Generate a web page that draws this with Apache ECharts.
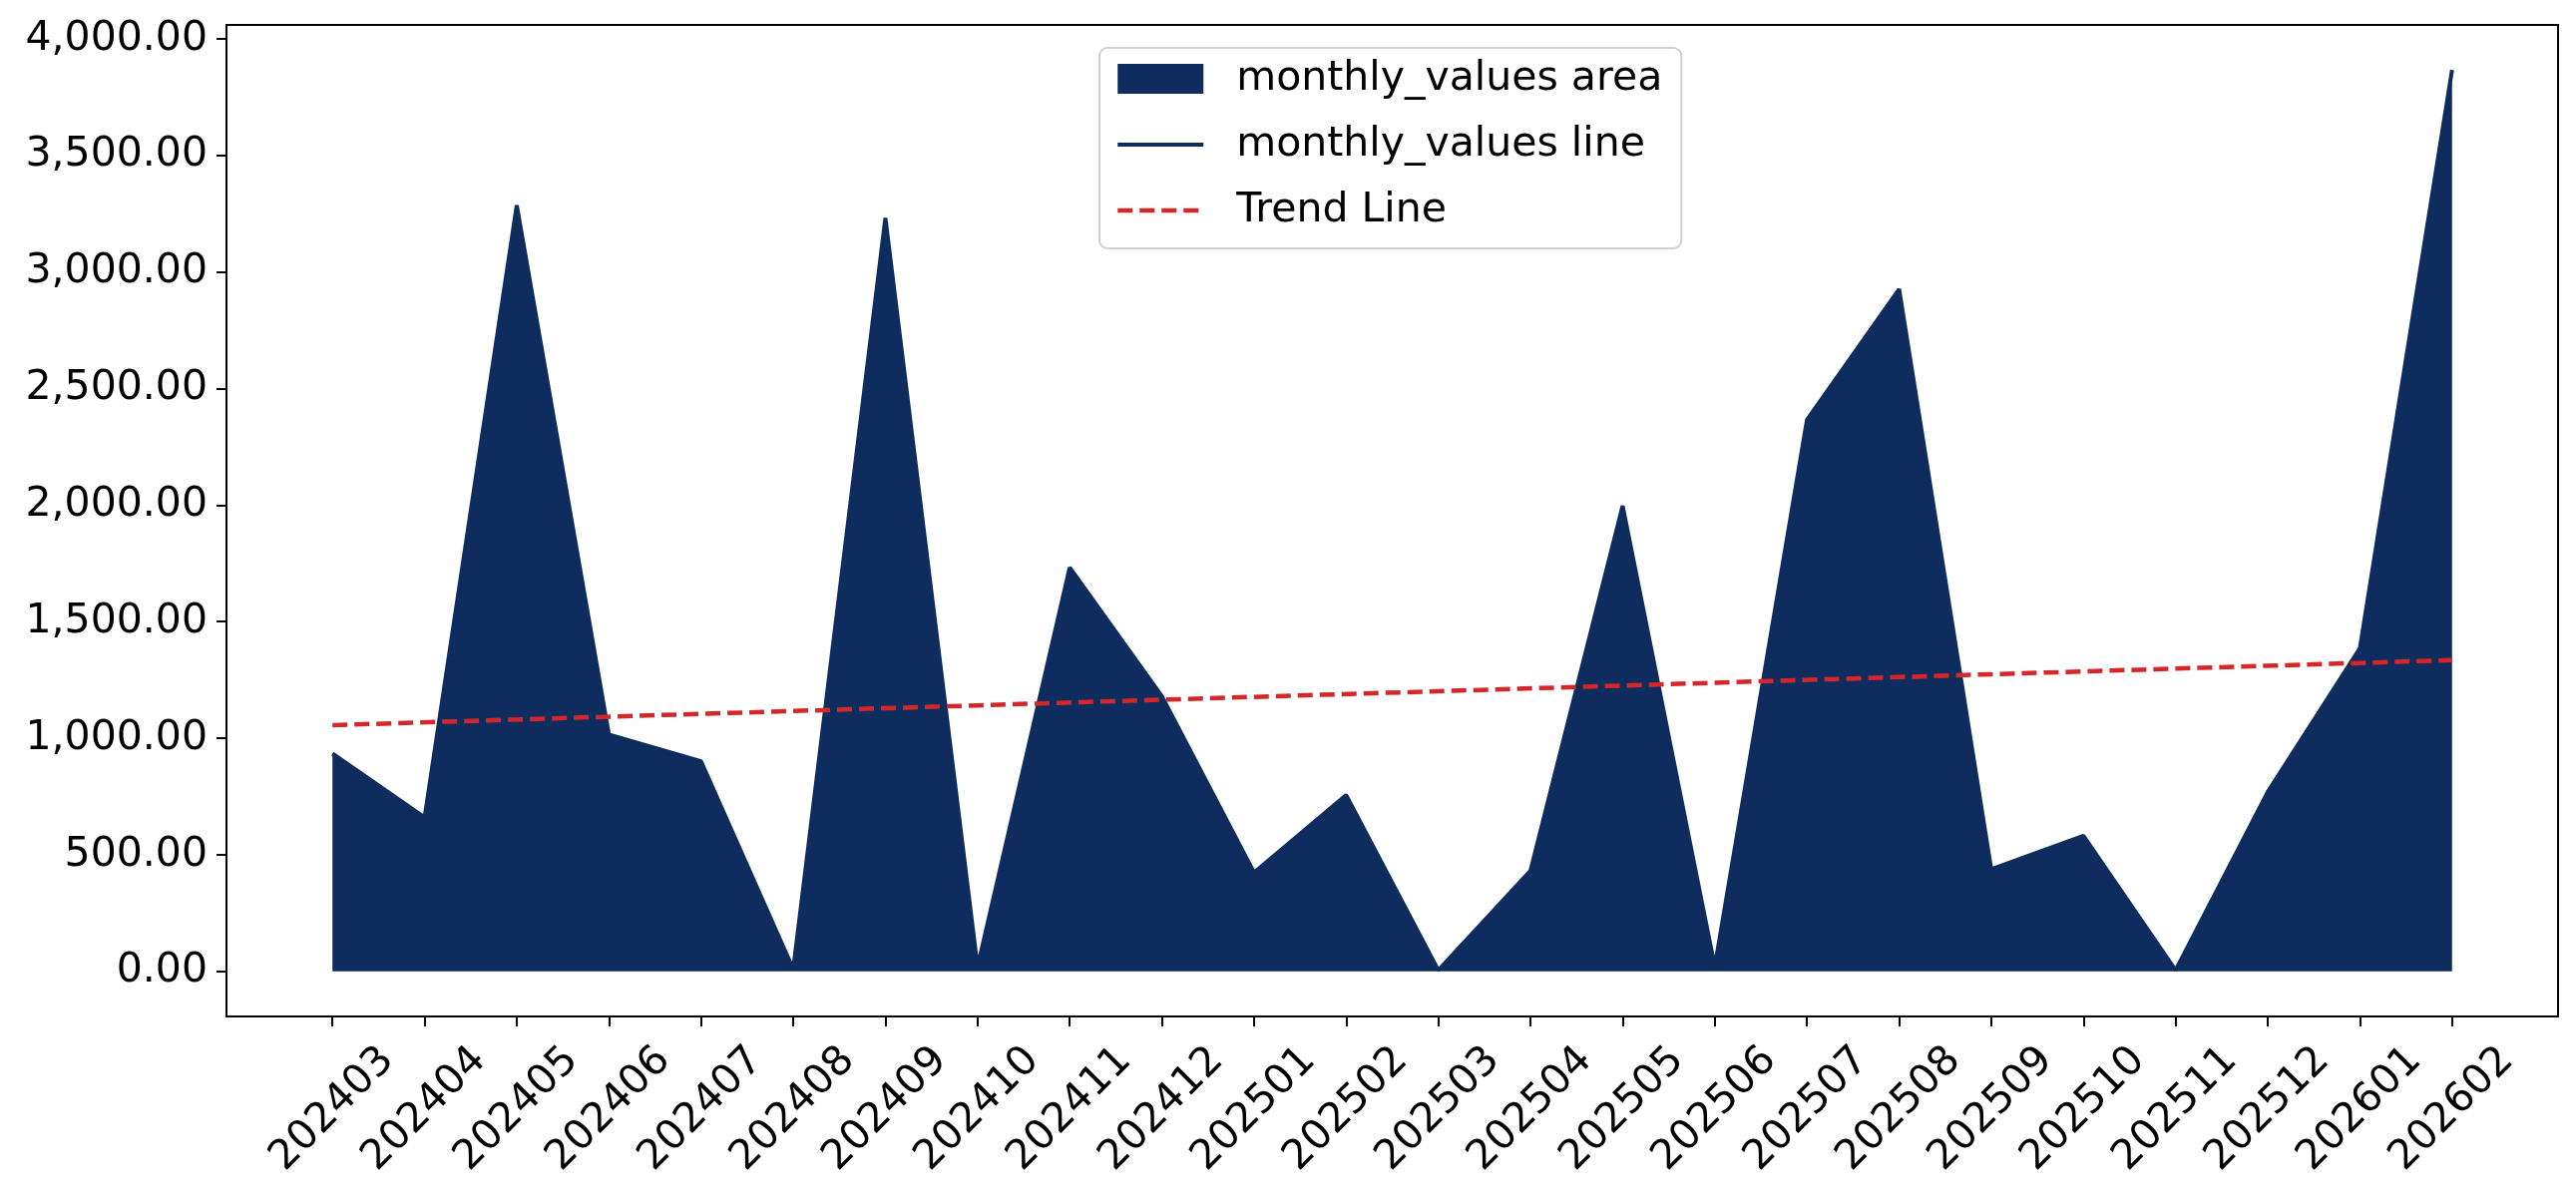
<!DOCTYPE html>
<html>
<head>
<meta charset="utf-8">
<script src="https://cdn.jsdelivr.net/npm/echarts@6/dist/echarts.min.js"></script>
<style>
  html, body { margin: 0; padding: 0; background: #fff; }
  #chart { width: 2582px; height: 1203px; }
</style>
</head>
<body>
<div id="chart"></div>
<script>
const categories = ['202403','202404','202405','202406','202407','202408','202409','202410','202411','202412',
  '202501','202502','202503','202504','202505','202506','202507','202508','202509','202510','202511','202512',
  '202601','202602'];
const monthlyValues = [934, 661, 3286, 1016, 901, 10, 3232, 20, 1732, 1180,
  424, 756, 5, 432, 1997, 20, 2365, 2926, 438, 582, 5, 770, 1386, 3866];
const trendStart = 1056;
const trendEnd = 1335;
const yTicks = [0, 500, 1000, 1500, 2000, 2500, 3000, 3500, 4000];

const NAVY = '#0e2d5e';
const RED = '#d62728';
const FONT = 'DejaVu Sans';

const xIdx = categories.map((c, i) => i);
const pts = monthlyValues.map((v, i) => [i, v]);
const trendPts = [[0, trendStart], [categories.length - 1, trendEnd]];
const maxV = Math.max(...monthlyValues);
const nX = categories.length - 1;

const chart = echarts.init(document.getElementById('chart'), null, { renderer: 'canvas' });
chart.setOption({
  animation: false,
  backgroundColor: '#fff',
  grid: {
    left: 227, right: 18, top: 25, bottom: 184,
    show: true, borderColor: '#000', borderWidth: 2, backgroundColor: 'transparent'
  },
  xAxis: {
    type: 'value',
    min: -0.05 * nX,
    max: nX * 1.05,
    splitLine: { show: false },
    axisLine: { show: true, onZero: false, lineStyle: { color: '#000', width: 2 } },
    axisTick: { show: true, customValues: xIdx, length: 10, lineStyle: { color: '#000', width: 2 } },
    axisLabel: {
      customValues: xIdx,
      formatter: v => categories[Math.round(v)],
      rotate: 45,
      align: 'center',
      verticalAlign: 'middle',
      margin: 93,
      color: '#000',
      fontFamily: FONT,
      fontSize: 41
    }
  },
  yAxis: {
    type: 'value',
    min: -0.05 * maxV,
    max: maxV * 1.05,
    splitLine: { show: false },
    axisLine: { show: true, onZero: false, lineStyle: { color: '#000', width: 2 } },
    axisTick: { show: true, customValues: yTicks, length: 10, lineStyle: { color: '#000', width: 2 } },
    axisLabel: {
      customValues: yTicks,
      formatter: v => v.toLocaleString('en-US', { minimumFractionDigits: 2, maximumFractionDigits: 2 }),
      margin: 19,
      color: '#000',
      fontFamily: FONT,
      fontSize: 41
    }
  },
  legend: {
    orient: 'vertical',
    left: 1102,
    top: 48,
    padding: [8, 19, 15, 16],
    itemGap: 20,
    itemWidth: 86,
    itemHeight: 30,
    backgroundColor: '#fff',
    borderColor: '#d0d0d0',
    borderWidth: 2,
    borderRadius: 8,
    textStyle: { fontFamily: FONT, fontSize: 41, color: '#000', lineHeight: 46, padding: [0, 0, 0, 28] },
    data: [
      { name: 'monthly_values area', icon: 'rect', itemStyle: { color: NAVY } },
      { name: 'monthly_values line', itemStyle: { opacity: 0, borderWidth: 0 },
        lineStyle: { width: 4, color: NAVY } },
      { name: 'Trend Line', itemStyle: { opacity: 0, borderWidth: 0 },
        lineStyle: { width: 4.5, color: RED, type: [15, 7] } }
    ]
  },
  series: [
    {
      name: 'monthly_values area',
      type: 'line',
      data: pts,
      symbol: 'none',
      lineStyle: { width: 0, color: NAVY },
      itemStyle: { color: NAVY },
      areaStyle: { color: NAVY, opacity: 1, origin: 0 },
      z: 2
    },
    {
      name: 'monthly_values line',
      type: 'line',
      data: pts,
      symbol: 'none',
      lineStyle: { width: 4, color: NAVY },
      itemStyle: { color: NAVY },
      z: 3
    },
    {
      name: 'Trend Line',
      type: 'line',
      data: trendPts,
      symbol: 'none',
      lineStyle: { width: 4.5, color: RED, type: [15, 7] },
      itemStyle: { color: RED },
      z: 4
    }
  ]
});
</script>
</body>
</html>
